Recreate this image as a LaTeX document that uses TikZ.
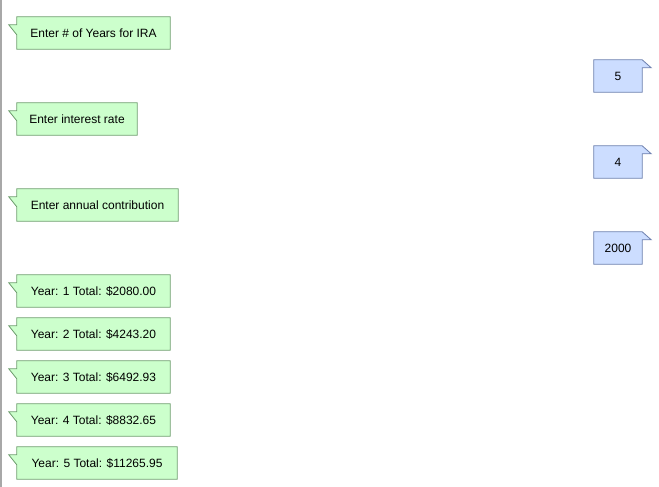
\documentclass[tikz,border=0pt]{standalone}
\usepackage{fontspec}
\setmainfont{Liberation Sans}
\definecolor{gfill}{HTML}{CCFFCC}
\definecolor{gline}{HTML}{6E9E6E}
\definecolor{bfill}{HTML}{CCDDFF}
\definecolor{bline}{HTML}{6C7FAE}
\definecolor{side}{HTML}{A8A8A8}
\newcommand{\leftmsg}[5]{%
  \node[msgtext, minimum width=#4pt] (#1) at (#2,#3) {#5};
  \path[draw=gline, fill=gfill, line width=0.8pt, line join=miter]
    (#1.north west) -- ++(0,8) -- ++(-8,0) -- ++(8,10) -- (#1.south west)
    -- (#1.south east) -- (#1.north east) -- cycle;
  \node[msgtext, minimum width=#4pt] at (#1) {#5};}
\newcommand{\rightmsg}[5]{%
  \node[msgtext, minimum width=#4pt] (#1) at (#2,#3) {#5};
  \path[draw=bline, fill=bfill, line width=0.8pt, line join=miter]
    (#1.north west) -- (#1.north east) -- ++(9,8) -- ++(-9,0)
    -- (#1.south east) -- (#1.south west) -- cycle;
  \node[msgtext, minimum width=#4pt] at (#1) {#5};}
\begin{document}
\begin{tikzpicture}[x=1pt,y=-1pt,
  msgtext/.style={inner sep=0pt, minimum height=32pt, text=black,
    font=\fontsize{12}{14}\selectfont}]
\useasboundingbox (0,0) rectangle (659,487);
\fill[side] (0,0) rectangle (1.5,487);
\leftmsg{q1}{93.5}{33}{153}{Enter \# of Years for IRA}
\rightmsg{a1}{618}{76}{48}{5}
\leftmsg{q2}{77}{119}{120}{Enter interest rate}
\rightmsg{a2}{618}{162}{48}{4}
\leftmsg{q3}{97.5}{205}{161}{Enter annual contribution}
\rightmsg{a3}{618}{248}{48}{2000}
\leftmsg{y1}{93.5}{291}{153}{Year: 1 Total: \$2080.00}
\leftmsg{y2}{93.5}{334}{153}{Year: 2 Total: \$4243.20}
\leftmsg{y3}{93.5}{377}{153}{Year: 3 Total: \$6492.93}
\leftmsg{y4}{93.5}{420}{153}{Year: 4 Total: \$8832.65}
\leftmsg{y5}{97}{463}{160}{Year: 5 Total: \$11265.95}
\end{tikzpicture}
\end{document}
